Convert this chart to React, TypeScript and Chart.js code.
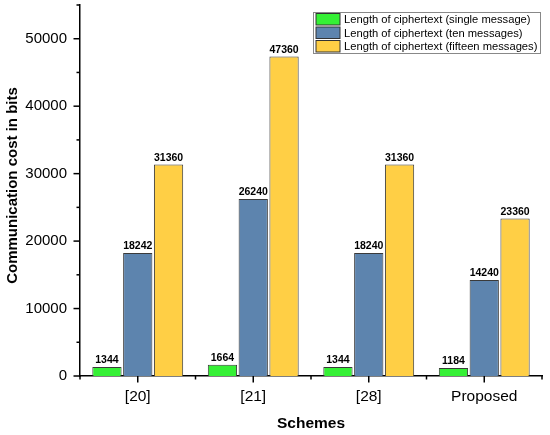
import React, { useEffect, useRef } from "react";
import { Chart, registerables } from "chart.js";

Chart.register(...registerables);

const categories = ["[20]", "[21]", "[28]", "Proposed"];
const seriesNames = [
  "Length of ciphertext (single message)",
  "Length of ciphertext (ten messages)",
  "Length of ciphertext (fifteen messages)",
];
const singleMessage = [1344, 1664, 1344, 1184];
const tenMessages = [18242, 26240, 18240, 14240];
const fifteenMessages = [31360, 47360, 31360, 23360];
const yTickValues = [0, 10000, 20000, 30000, 40000, 50000];
const seriesColors = ["#35f035", "#5d84ae", "#ffcf45"];
const yMax = 55000;
const yMinorStep = 5000;

const FONT = "'Liberation Sans', Arial, sans-serif";

const tickPlugin = {
  id: "tickMarks",
  afterDraw(chart: any) {
    const ctx = chart.ctx;
    const x = chart.scales.x;
    const y = chart.scales.y;
    ctx.save();
    ctx.strokeStyle = "#000";
    ctx.lineWidth = 1.5;
    const left = chart.chartArea.left;
    const bottom = chart.chartArea.bottom;
    for (let v = 0; v <= yMax; v += yMinorStep) {
      const py = y.getPixelForValue(v);
      const len = yTickValues.includes(v) ? 6.5 : 3.5;
      ctx.beginPath();
      ctx.moveTo(left - len, py);
      ctx.lineTo(left, py);
      ctx.stroke();
    }
    const n = categories.length;
    const spacing = n > 1 ? x.getPixelForValue(1) - x.getPixelForValue(0) : x.width;
    for (let i = 0; i < n; i++) {
      const px = x.getPixelForValue(i);
      ctx.beginPath();
      ctx.moveTo(px, bottom);
      ctx.lineTo(px, bottom + 6.5);
      ctx.stroke();
    }
    for (let i = 0; i <= n; i++) {
      const px = x.getPixelForValue(0) - spacing / 2 + i * spacing;
      ctx.beginPath();
      ctx.moveTo(px, bottom);
      ctx.lineTo(px, bottom + 3.5);
      ctx.stroke();
    }
    // y axis title
    ctx.save();
    ctx.translate(12.5, 185.5);
    ctx.rotate(-Math.PI / 2);
    ctx.font = `bold 15px ${FONT}`;
    ctx.fillStyle = "#000";
    ctx.textAlign = "center";
    ctx.textBaseline = "middle";
    ctx.fillText("Communication cost in bits", 0, 0);
    ctx.restore();
    ctx.restore();
  },
};

const valueLabelPlugin = {
  id: "valueLabels",
  afterDatasetsDraw(chart: any) {
    const ctx = chart.ctx;
    ctx.save();
    ctx.font = `bold 10.5px ${FONT}`;
    ctx.fillStyle = "#000";
    ctx.textAlign = "center";
    ctx.textBaseline = "bottom";
    chart.data.datasets.forEach((ds: any, di: number) => {
      const meta = chart.getDatasetMeta(di);
      meta.data.forEach((el: any, i: number) => {
        ctx.fillText(String(ds.data[i]), el.x, el.y - 1.5);
      });
    });
    ctx.restore();
  },
};

const legendPlugin = {
  id: "boxLegend",
  afterDraw(chart: any) {
    const ctx = chart.ctx;
    const bx = 313;
    const by = 12;
    const bw = 227;
    const bh = 41;
    ctx.save();
    ctx.fillStyle = "#fff";
    ctx.fillRect(bx, by, bw, bh);
    ctx.strokeStyle = "#888";
    ctx.lineWidth = 1;
    ctx.strokeRect(bx + 0.5, by + 0.5, bw, bh);
    ctx.font = `11.2px ${FONT}`;
    ctx.textBaseline = "middle";
    ctx.textAlign = "left";
    chart.data.datasets.forEach((ds: any, i: number) => {
      const ry = by + 1.5 + i * 13.5;
      ctx.fillStyle = ds.backgroundColor;
      ctx.fillRect(bx + 3, ry, 24, 11.5);
      ctx.strokeStyle = "#333";
      ctx.strokeRect(bx + 3, ry, 24, 11.5);
      ctx.fillStyle = "#000";
      ctx.fillText(ds.label, bx + 31, ry + 6.5);
    });
    ctx.restore();
  },
};

export default function App() {
  const ref = useRef<HTMLCanvasElement | null>(null);
  useEffect(() => {
    if (!ref.current) return;
    const values = [singleMessage, tenMessages, fifteenMessages];
    const chart = new Chart(ref.current, {
      type: "bar",
      data: {
        labels: categories,
        datasets: values.map((d, i) => ({
          label: seriesNames[i],
          data: d,
          backgroundColor: seriesColors[i],
          borderColor: "#3a3a3a",
          borderWidth: 1,
          categoryPercentage: 0.8,
          barPercentage: 0.95,
        })),
      },
      options: {
        animation: false,
        responsive: false,
        layout: { padding: { left: 0, right: 8, top: 5, bottom: 0 } },
        plugins: {
          legend: { display: false },
          tooltip: { enabled: false },
        },
        scales: {
          x: {
            type: "category",
            offset: true,
            grid: { display: false },
            border: { display: true, color: "#000", width: 1.5 },
            ticks: { color: "#000", font: { family: FONT, size: 15.5 }, padding: 3 },
            title: {
              display: true,
              text: "Schemes",
              color: "#000",
              font: { family: FONT, size: 15.5, weight: "bold" },
              padding: { top: 0, bottom: 2 },
            },
            afterFit(scale: any) {
              scale.height = 59;
              scale.paddingLeft = 0;
              scale.paddingRight = 0;
            },
          },
          y: {
            min: 0,
            max: yMax,
            grid: { display: false },
            border: { display: true, color: "#000", width: 1.5 },
            afterBuildTicks(scale: any) {
              scale.ticks = yTickValues.map((v) => ({ value: v }));
            },
            ticks: {
              color: "#000",
              font: { family: FONT, size: 15 },
              padding: 5,
              callback: (v: any) => String(v),
            },
            title: { display: false },
            afterFit(scale: any) {
              scale.width = 80;
              scale.paddingTop = 0;
              scale.paddingBottom = 0;
            },
          },
        },
      } as any,
      plugins: [tickPlugin, valueLabelPlugin, legendPlugin],
    });
    return () => chart.destroy();
  }, []);
  return (
    <div style={{ position: "absolute", left: 0, top: 0, width: 550, height: 435 }}>
      <canvas ref={ref} width={550} height={435} style={{ display: "block" }} />
    </div>
  );
}
